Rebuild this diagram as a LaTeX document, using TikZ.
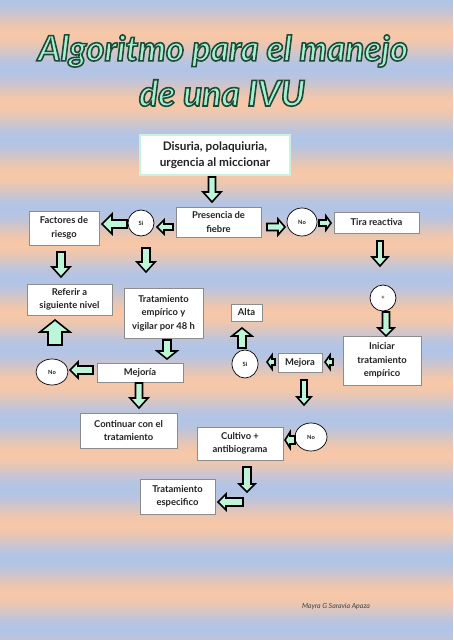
\documentclass[tikz,border=0pt]{standalone}
\usepackage{fontspec}
\usepackage{graphicx}
\usetikzlibrary{calc,shapes.geometric}
\newfontfamily\bodyfont{Lato}
\newfontfamily\titlefont{Lato}[FakeBold=4.5]
\definecolor{bgblue}{HTML}{B2C4E6}
\definecolor{bgpeach}{HTML}{F6C7A8}
\definecolor{mint}{HTML}{BDF5D8}
\definecolor{titlemint}{HTML}{A6F0CF}
\definecolor{boxmint}{HTML}{C8F2DE}
\definecolor{txt}{HTML}{222222}
% block arrow: name, tail, tip, shaft half width, head half width, head length
\newcommand\barrow[6]{%
  \coordinate (#1t) at (#2);
  \coordinate (#1h) at (#3);
  \coordinate (#1b) at ($(#1h)!#6!(#1t)$);
  \draw[barr] ($(#1t)!#4!90:(#1h)$) -- ($(#1b)!#4!90:(#1h)$) -- ($(#1b)!#5!90:(#1h)$)
    -- (#1h) -- ($(#1b)!#5!-90:(#1h)$) -- ($(#1b)!#4!-90:(#1h)$) -- ($(#1t)!#4!-90:(#1h)$) -- cycle;}
\newcommand\darkstroke{\special{pdf:literal direct 0.118 0.29 0.22 RG}}
\newcommand\TitleA{\resizebox{370pt}{!}{\titlefont\bfseries\itshape\darkstroke Algoritmo para el manejo}}
\newcommand\TitleB{\resizebox{166pt}{!}{\titlefont\bfseries\itshape\darkstroke de una IVU}}
\begin{document}
\begin{tikzpicture}[x=1pt,y=-1pt,
  box/.style={draw=black!45, line width=0.6pt, fill=white, align=center, text=txt,
    inner sep=1pt, font=\bodyfont\bfseries\fontsize{9.4}{13.5}\selectfont},
  bub/.style={ellipse, draw=black, line width=0.7pt, fill=white, inner sep=0pt, text=txt,
    font=\bodyfont\bfseries\fontsize{5.8}{6}\selectfont},
  barr/.style={draw=black, line width=1.6pt, fill=mint, line join=miter}]
\useasboundingbox (0,0) rectangle (453,640);
% striped background
\foreach \i in {0,2,...,638} {
  \pgfmathsetmacro\t{50+50*cos(5.142857*(\i+1))}
  \fill[bgblue!\t!bgpeach] (0,\i) rectangle (453,\i+2.3);
}
% title
\node[text=titlemint] (ta) at (223,51) {\TitleA};
\node[text=titlemint] (tb) at (222,93) {\TitleB};

% boxes
\node[box, draw=boxmint, line width=2.5pt, minimum width=150pt, minimum height=40pt,
  font=\bodyfont\bfseries\fontsize{11.8}{15.5}\selectfont] (dis) at (215,155) {Disuria, polaquiuria,\\urgencia al miccionar};
\node[box, minimum width=85pt, minimum height=30pt] (pres) at (218.5,222) {Presencia de\\fiebre};
\node[box, minimum width=70pt, minimum height=34pt] (fact) at (64,228) {Factores de\\riesgo};
\node[box, minimum width=85pt, minimum height=21pt] (tira) at (376.5,222.5) {Tira reactiva};
\node[box, minimum width=85pt, minimum height=31pt] (ref) at (69.5,299.5) {Referir a\\siguiente nivel};
\node[box, minimum width=79pt, minimum height=50pt] (trat) at (163.5,313) {Tratamiento\\empírico y\\vigilar por 48 h};
\node[box, minimum width=78pt, minimum height=49pt] (ini) at (382,360.5) {Iniciar\\tratamiento\\empírico};
\node[box, minimum width=31pt, minimum height=17pt] (alta) at (246.5,312.5) {Alta};
\node[box, minimum width=44pt, minimum height=19pt] (mejora) at (300,362.5) {Mejora};
\node[box, minimum width=86pt, minimum height=19pt] (mejoria) at (140,372.5) {Mejoría};
\node[box, minimum width=97pt, minimum height=35pt] (cont) at (128.5,430.5) {Continuar con el\\tratamiento};
\node[box, minimum width=86pt, minimum height=33pt] (cult) at (240,443.5) {Cultivo +\\antibiograma};
\node[box, minimum width=75pt, minimum height=35pt] (esp) at (177.5,496.5) {Tratamiento\\especifico};

% bubbles
\node[bub, minimum width=26pt, minimum height=26pt] (si1) at (141,223) {Si};
\node[bub, minimum width=30pt, minimum height=28pt] (no1) at (302,222) {No};
\node[bub, minimum width=26pt, minimum height=26pt] (plus) at (383,298) {+};
\node[bub, minimum width=26pt, minimum height=28pt] (si2) at (245,364) {Si};
\node[bub, minimum width=32pt, minimum height=26pt] (no2) at (52,372) {No};
\node[bub, minimum width=32pt, minimum height=28pt] (no3) at (311,437) {No};

% block arrows
\barrow{a1}{212,177}{212,202}{3.5pt}{9pt}{10pt}
\barrow{a2}{173,227}{157,227}{3pt}{7pt}{7pt}
\barrow{a3}{127,224}{102,224}{4pt}{10pt}{10pt}
\barrow{a4}{267,227}{285,227}{3.5pt}{8pt}{7pt}
\barrow{a5}{319,223}{331,223}{3pt}{7pt}{5pt}
\barrow{a6}{61,252}{61,277}{4pt}{9pt}{10pt}
\barrow{a7}{146,248}{146,272}{4pt}{9pt}{10pt}
\barrow{a8}{380,241}{380,266}{3pt}{8pt}{9pt}
\barrow{a9}{386,312}{386,336}{3.5pt}{8pt}{8pt}
\barrow{a10}{55,345}{55,320}{7pt}{15pt}{12pt}
\barrow{a11}{93,370}{70,370}{4pt}{8pt}{8pt}
\barrow{a12}{167,340}{167,359}{4pt}{10pt}{8pt}
\barrow{a13}{242,348}{242,328}{4pt}{10pt}{8pt}
\barrow{a14}{275,362}{267,362}{3pt}{7pt}{5pt}
\barrow{a15}{333,362}{325,362}{3pt}{7pt}{5pt}
\barrow{a16}{304,380}{304,405}{3pt}{7pt}{8pt}
\barrow{a17}{139,383}{139,408}{3.5pt}{9pt}{10pt}
\barrow{a18}{295,440}{285,440}{4pt}{8pt}{5pt}
\barrow{a19}{247,467}{247,492}{4pt}{8pt}{8pt}
\barrow{a20}{243,502}{218,502}{4pt}{8pt}{8pt}

% footer
\node[font=\bodyfont\itshape\fontsize{7}{8}\selectfont, text=black!75] (foot) at (336,607) {Mayra G Saravia Apaza};
\end{tikzpicture}
\end{document}
